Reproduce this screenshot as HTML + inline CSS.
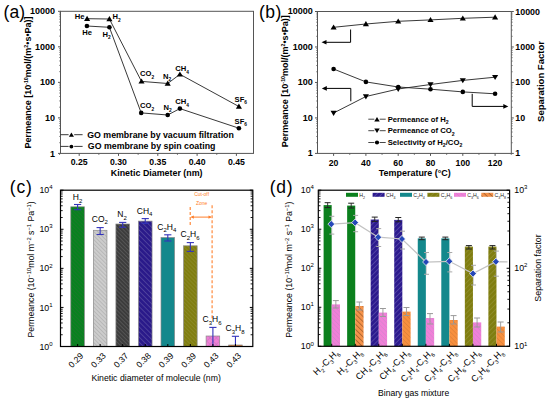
<!DOCTYPE html>
<html><head><meta charset="utf-8"><style>
html,body{margin:0;padding:0;background:#fff;width:550px;height:401px;overflow:hidden}
svg{display:block}
text{font-family:"Liberation Sans",sans-serif}
</style></head><body>
<svg width="550" height="401" viewBox="0 0 550 401" font-family="Liberation Sans, sans-serif">
<rect width="550" height="401" fill="#fff"/>
<defs>
<pattern id="cg" patternUnits="userSpaceOnUse" width="2.8" height="2.8" patternTransform="rotate(-45)"><rect width="2.8" height="2.8" fill="#08821f"/><line x1="0" y1="0" x2="0" y2="2.8" stroke="#2c6e36" stroke-width="0.8"/></pattern>
<pattern id="clg" patternUnits="userSpaceOnUse" width="2.8" height="2.8" patternTransform="rotate(-45)"><rect width="2.8" height="2.8" fill="#cdcdcd"/><line x1="0" y1="0" x2="0" y2="2.8" stroke="#9a9a9a" stroke-width="0.8"/></pattern>
<pattern id="cdg" patternUnits="userSpaceOnUse" width="2.8" height="2.8" patternTransform="rotate(-45)"><rect width="2.8" height="2.8" fill="#3c3c3c"/><line x1="0" y1="0" x2="0" y2="2.8" stroke="#767676" stroke-width="0.8"/></pattern>
<pattern id="cp" patternUnits="userSpaceOnUse" width="3.6" height="3.6" patternTransform="rotate(-45)"><rect width="3.6" height="3.6" fill="#2a1a8a"/><line x1="0" y1="0" x2="0" y2="3.6" stroke="#6a60aa" stroke-width="1.0"/></pattern>
<pattern id="ct" patternUnits="userSpaceOnUse" width="3" height="3" patternTransform="rotate(0)"><rect width="3" height="3" fill="#14888c"/><line x1="0" y1="0" x2="0" y2="3" stroke="#14888c" stroke-width="0.6"/></pattern>
<pattern id="co" patternUnits="userSpaceOnUse" width="2.8" height="2.8" patternTransform="rotate(-45)"><rect width="2.8" height="2.8" fill="#807e10"/><line x1="0" y1="0" x2="0" y2="2.8" stroke="#989640" stroke-width="0.8"/></pattern>
<pattern id="cpk" patternUnits="userSpaceOnUse" width="4.5" height="4.5" patternTransform="rotate(45)"><rect width="4.5" height="4.5" fill="#f07ed6"/><line x1="0" y1="0" x2="0" y2="4.5" stroke="#c078bc" stroke-width="1"/><line x1="0" y1="0" x2="4.5" y2="0" stroke="#c078bc" stroke-width="1"/></pattern>
<pattern id="cor" patternUnits="userSpaceOnUse" width="2.8" height="2.8" patternTransform="rotate(-45)"><rect width="2.8" height="2.8" fill="#d87a3a"/><line x1="0" y1="0" x2="0" y2="2.8" stroke="#b06020" stroke-width="0.8"/></pattern>
<pattern id="dg" patternUnits="userSpaceOnUse" width="3.6" height="3.6" patternTransform="rotate(45)"><rect width="3.6" height="3.6" fill="#0b801d"/><line x1="0" y1="0" x2="0" y2="3.6" stroke="#0b801d" stroke-width="0.9"/></pattern>
<pattern id="dp" patternUnits="userSpaceOnUse" width="3.6" height="3.6" patternTransform="rotate(45)"><rect width="3.6" height="3.6" fill="#2c1a8e"/><line x1="0" y1="0" x2="0" y2="3.6" stroke="#7268b4" stroke-width="1.0"/></pattern>
<pattern id="dt" patternUnits="userSpaceOnUse" width="3.6" height="3.6" patternTransform="rotate(45)"><rect width="3.6" height="3.6" fill="#14888c"/><line x1="0" y1="0" x2="0" y2="3.6" stroke="#14888c" stroke-width="0.9"/></pattern>
<pattern id="do" patternUnits="userSpaceOnUse" width="3.6" height="3.6" patternTransform="rotate(45)"><rect width="3.6" height="3.6" fill="#807e10"/><line x1="0" y1="0" x2="0" y2="3.6" stroke="#9c9a48" stroke-width="0.9"/></pattern>
<pattern id="dpk" patternUnits="userSpaceOnUse" width="3.2" height="3.2" patternTransform="rotate(-45)"><rect width="3.2" height="3.2" fill="#f080d8"/><line x1="0" y1="0" x2="0" y2="3.2" stroke="#c888c8" stroke-width="0.9"/></pattern>
<pattern id="dor" patternUnits="userSpaceOnUse" width="3.6" height="3.6" patternTransform="rotate(-45)"><rect width="3.6" height="3.6" fill="#f4924a"/><line x1="0" y1="0" x2="0" y2="3.6" stroke="#6a3a1a" stroke-width="0.9"/></pattern>
<pattern id="dor2" patternUnits="userSpaceOnUse" width="3.2" height="3.2" patternTransform="rotate(-45)"><rect width="3.2" height="3.2" fill="#f8903e"/><line x1="0" y1="0" x2="0" y2="3.2" stroke="#d07838" stroke-width="0.9"/></pattern>
</defs>
<text x="3.6" y="17.8" font-size="17.5">(a)</text>
<rect x="60.5" y="11.3" width="193.0" height="142.1" fill="none" stroke="#555" stroke-width="1"/>
<line x1="58.00" y1="153.40" x2="60.50" y2="153.40" stroke="#555" stroke-width="1" />
<text x="55.00" y="156.50" font-size="9.0" font-weight="bold" text-anchor="end" fill="#000" >1</text>
<line x1="59.00" y1="142.71" x2="60.50" y2="142.71" stroke="#555" stroke-width="0.6" />
<line x1="59.00" y1="136.45" x2="60.50" y2="136.45" stroke="#555" stroke-width="0.6" />
<line x1="59.00" y1="132.01" x2="60.50" y2="132.01" stroke="#555" stroke-width="0.6" />
<line x1="59.00" y1="128.57" x2="60.50" y2="128.57" stroke="#555" stroke-width="0.6" />
<line x1="59.00" y1="125.76" x2="60.50" y2="125.76" stroke="#555" stroke-width="0.6" />
<line x1="59.00" y1="123.38" x2="60.50" y2="123.38" stroke="#555" stroke-width="0.6" />
<line x1="59.00" y1="121.32" x2="60.50" y2="121.32" stroke="#555" stroke-width="0.6" />
<line x1="59.00" y1="119.50" x2="60.50" y2="119.50" stroke="#555" stroke-width="0.6" />
<line x1="58.00" y1="117.88" x2="60.50" y2="117.88" stroke="#555" stroke-width="1" />
<text x="55.00" y="120.97" font-size="9.0" font-weight="bold" text-anchor="end" fill="#000" >10</text>
<line x1="59.00" y1="107.18" x2="60.50" y2="107.18" stroke="#555" stroke-width="0.6" />
<line x1="59.00" y1="100.93" x2="60.50" y2="100.93" stroke="#555" stroke-width="0.6" />
<line x1="59.00" y1="96.49" x2="60.50" y2="96.49" stroke="#555" stroke-width="0.6" />
<line x1="59.00" y1="93.04" x2="60.50" y2="93.04" stroke="#555" stroke-width="0.6" />
<line x1="59.00" y1="90.23" x2="60.50" y2="90.23" stroke="#555" stroke-width="0.6" />
<line x1="59.00" y1="87.85" x2="60.50" y2="87.85" stroke="#555" stroke-width="0.6" />
<line x1="59.00" y1="85.79" x2="60.50" y2="85.79" stroke="#555" stroke-width="0.6" />
<line x1="59.00" y1="83.98" x2="60.50" y2="83.98" stroke="#555" stroke-width="0.6" />
<line x1="58.00" y1="82.35" x2="60.50" y2="82.35" stroke="#555" stroke-width="1" />
<text x="55.00" y="85.45" font-size="9.0" font-weight="bold" text-anchor="end" fill="#000" >100</text>
<line x1="59.00" y1="71.66" x2="60.50" y2="71.66" stroke="#555" stroke-width="0.6" />
<line x1="59.00" y1="65.40" x2="60.50" y2="65.40" stroke="#555" stroke-width="0.6" />
<line x1="59.00" y1="60.96" x2="60.50" y2="60.96" stroke="#555" stroke-width="0.6" />
<line x1="59.00" y1="57.52" x2="60.50" y2="57.52" stroke="#555" stroke-width="0.6" />
<line x1="59.00" y1="54.71" x2="60.50" y2="54.71" stroke="#555" stroke-width="0.6" />
<line x1="59.00" y1="52.33" x2="60.50" y2="52.33" stroke="#555" stroke-width="0.6" />
<line x1="59.00" y1="50.27" x2="60.50" y2="50.27" stroke="#555" stroke-width="0.6" />
<line x1="59.00" y1="48.45" x2="60.50" y2="48.45" stroke="#555" stroke-width="0.6" />
<line x1="58.00" y1="46.83" x2="60.50" y2="46.83" stroke="#555" stroke-width="1" />
<text x="55.00" y="49.93" font-size="9.0" font-weight="bold" text-anchor="end" fill="#000" >1000</text>
<line x1="59.00" y1="36.13" x2="60.50" y2="36.13" stroke="#555" stroke-width="0.6" />
<line x1="59.00" y1="29.88" x2="60.50" y2="29.88" stroke="#555" stroke-width="0.6" />
<line x1="59.00" y1="25.44" x2="60.50" y2="25.44" stroke="#555" stroke-width="0.6" />
<line x1="59.00" y1="21.99" x2="60.50" y2="21.99" stroke="#555" stroke-width="0.6" />
<line x1="59.00" y1="19.18" x2="60.50" y2="19.18" stroke="#555" stroke-width="0.6" />
<line x1="59.00" y1="16.80" x2="60.50" y2="16.80" stroke="#555" stroke-width="0.6" />
<line x1="59.00" y1="14.74" x2="60.50" y2="14.74" stroke="#555" stroke-width="0.6" />
<line x1="59.00" y1="12.93" x2="60.50" y2="12.93" stroke="#555" stroke-width="0.6" />
<line x1="58.00" y1="11.30" x2="60.50" y2="11.30" stroke="#555" stroke-width="1" />
<text x="55.00" y="14.40" font-size="9.0" font-weight="bold" text-anchor="end" fill="#000" >10000</text>
<line x1="79.20" y1="153.40" x2="79.20" y2="155.90" stroke="#555" stroke-width="1" />
<text x="79.20" y="165.40" font-size="8.7" font-weight="bold" text-anchor="middle" fill="#000" >0.25</text>
<line x1="118.50" y1="153.40" x2="118.50" y2="155.90" stroke="#555" stroke-width="1" />
<text x="118.50" y="165.40" font-size="8.7" font-weight="bold" text-anchor="middle" fill="#000" >0.30</text>
<line x1="157.80" y1="153.40" x2="157.80" y2="155.90" stroke="#555" stroke-width="1" />
<text x="157.80" y="165.40" font-size="8.7" font-weight="bold" text-anchor="middle" fill="#000" >0.35</text>
<line x1="197.10" y1="153.40" x2="197.10" y2="155.90" stroke="#555" stroke-width="1" />
<text x="197.10" y="165.40" font-size="8.7" font-weight="bold" text-anchor="middle" fill="#000" >0.40</text>
<line x1="236.40" y1="153.40" x2="236.40" y2="155.90" stroke="#555" stroke-width="1" />
<text x="236.40" y="165.40" font-size="8.7" font-weight="bold" text-anchor="middle" fill="#000" >0.45</text>
<line x1="59.55" y1="153.40" x2="59.55" y2="154.90" stroke="#555" stroke-width="0.8" />
<line x1="98.85" y1="153.40" x2="98.85" y2="154.90" stroke="#555" stroke-width="0.8" />
<line x1="138.15" y1="153.40" x2="138.15" y2="154.90" stroke="#555" stroke-width="0.8" />
<line x1="177.45" y1="153.40" x2="177.45" y2="154.90" stroke="#555" stroke-width="0.8" />
<line x1="216.75" y1="153.40" x2="216.75" y2="154.90" stroke="#555" stroke-width="0.8" />
<text x="156.70" y="175.80" font-size="8.9" font-weight="bold" text-anchor="middle" fill="#000" >Kinetic Diameter (nm)</text>
<text transform="translate(31.2,82.4) rotate(-90)" font-size="9.0" font-weight="bold" text-anchor="middle">Permeance [10<tspan font-size="5.3" dy="-3.4">-10</tspan><tspan dy="3.4">mol/(m</tspan><tspan font-size="5.3" dy="-3.4">2</tspan><tspan dy="3.4">•s•Pa)]</tspan></text>
<polyline points="87.1,18.7 109.4,19 141.5,81.4 167.7,83.5 179.9,74.3 238.9,106.5" fill="none" stroke="#222" stroke-width="0.9"/>
<polyline points="86.9,26 109.4,27.3 141.2,112.9 167.7,115 179.9,108.6 238.9,128.2" fill="none" stroke="#222" stroke-width="0.9"/>
<path d="M87.10,15.80 L90.14,20.88 L84.05,20.88Z" fill="#000"/>
<path d="M109.40,16.10 L112.45,21.18 L106.36,21.18Z" fill="#000"/>
<path d="M141.50,78.50 L144.54,83.58 L138.46,83.58Z" fill="#000"/>
<path d="M167.70,80.60 L170.74,85.67 L164.66,85.67Z" fill="#000"/>
<path d="M179.90,71.40 L182.94,76.47 L176.86,76.47Z" fill="#000"/>
<path d="M238.90,103.60 L241.94,108.67 L235.86,108.67Z" fill="#000"/>
<circle cx="86.90" cy="26.00" r="2.3" fill="#000"/>
<circle cx="109.40" cy="27.30" r="2.3" fill="#000"/>
<circle cx="141.20" cy="112.90" r="2.3" fill="#000"/>
<circle cx="167.70" cy="115.00" r="2.3" fill="#000"/>
<circle cx="179.90" cy="108.60" r="2.3" fill="#000"/>
<circle cx="238.90" cy="128.20" r="2.3" fill="#000"/>
<text x="84.40" y="18.80" font-size="7.6" font-weight="bold" text-anchor="end" fill="#000"><tspan>He</tspan></text>
<text x="112.60" y="19.30" font-size="7.6" font-weight="bold" text-anchor="start" fill="#000"><tspan>H</tspan><tspan font-size="4.8" dy="2.40">2</tspan></text>
<text x="82.20" y="35.30" font-size="7.6" font-weight="bold" text-anchor="start" fill="#000"><tspan>He</tspan></text>
<text x="102.40" y="37.00" font-size="7.6" font-weight="bold" text-anchor="start" fill="#000"><tspan>H</tspan><tspan font-size="4.8" dy="2.40">2</tspan></text>
<text x="140.00" y="76.40" font-size="7.6" font-weight="bold" text-anchor="start" fill="#000"><tspan>CO</tspan><tspan font-size="4.8" dy="2.40">2</tspan></text>
<text x="163.00" y="78.90" font-size="7.6" font-weight="bold" text-anchor="start" fill="#000"><tspan>N</tspan><tspan font-size="4.8" dy="2.40">2</tspan></text>
<text x="175.20" y="71.30" font-size="7.6" font-weight="bold" text-anchor="start" fill="#000"><tspan>CH</tspan><tspan font-size="4.8" dy="2.40">4</tspan></text>
<text x="234.60" y="101.50" font-size="7.6" font-weight="bold" text-anchor="start" fill="#000"><tspan>SF</tspan><tspan font-size="4.8" dy="2.40">6</tspan></text>
<text x="140.00" y="108.40" font-size="7.6" font-weight="bold" text-anchor="start" fill="#000"><tspan>CO</tspan><tspan font-size="4.8" dy="2.40">2</tspan></text>
<text x="163.60" y="109.90" font-size="7.6" font-weight="bold" text-anchor="start" fill="#000"><tspan>N</tspan><tspan font-size="4.8" dy="2.40">2</tspan></text>
<text x="175.20" y="104.10" font-size="7.6" font-weight="bold" text-anchor="start" fill="#000"><tspan>CH</tspan><tspan font-size="4.8" dy="2.40">4</tspan></text>
<text x="234.60" y="123.60" font-size="7.6" font-weight="bold" text-anchor="start" fill="#000"><tspan>SF</tspan><tspan font-size="4.8" dy="2.40">6</tspan></text>
<line x1="60.50" y1="134.70" x2="68.60" y2="134.70" stroke="#222" stroke-width="0.9" />
<line x1="74.20" y1="134.70" x2="82.60" y2="134.70" stroke="#222" stroke-width="0.9" />
<path d="M71.40,132.60 L73.92,136.80 L68.88,136.80Z" fill="#000"/>
<line x1="60.50" y1="146.40" x2="68.60" y2="146.40" stroke="#222" stroke-width="0.9" />
<line x1="74.20" y1="146.40" x2="82.60" y2="146.40" stroke="#222" stroke-width="0.9" />
<circle cx="71.40" cy="146.60" r="1.95" fill="#000"/>
<text x="87.20" y="137.60" font-size="8.8" font-weight="bold" text-anchor="start" fill="#000" >GO membrane by vacuum filtration</text>
<text x="87.80" y="149.30" font-size="8.8" font-weight="bold" text-anchor="start" fill="#000" >GO membrane by spin coating</text>
<text x="259.0" y="17.8" font-size="17.5" letter-spacing="0.5">(b)</text>
<rect x="317.5" y="11.5" width="193.8" height="141.9" fill="none" stroke="#555" stroke-width="1"/>
<line x1="315.00" y1="153.40" x2="317.50" y2="153.40" stroke="#555" stroke-width="1" />
<line x1="511.30" y1="153.40" x2="513.80" y2="153.40" stroke="#555" stroke-width="1" />
<text x="312.80" y="156.20" font-size="9.0" font-weight="bold" text-anchor="end" fill="#000" >1</text>
<text x="515.30" y="156.40" font-size="8.9" font-weight="bold" text-anchor="start" fill="#000" >1</text>
<line x1="316.00" y1="142.72" x2="317.50" y2="142.72" stroke="#555" stroke-width="0.6" />
<line x1="511.30" y1="142.72" x2="512.80" y2="142.72" stroke="#555" stroke-width="0.6" />
<line x1="316.00" y1="136.47" x2="317.50" y2="136.47" stroke="#555" stroke-width="0.6" />
<line x1="511.30" y1="136.47" x2="512.80" y2="136.47" stroke="#555" stroke-width="0.6" />
<line x1="316.00" y1="132.04" x2="317.50" y2="132.04" stroke="#555" stroke-width="0.6" />
<line x1="511.30" y1="132.04" x2="512.80" y2="132.04" stroke="#555" stroke-width="0.6" />
<line x1="316.00" y1="128.60" x2="317.50" y2="128.60" stroke="#555" stroke-width="0.6" />
<line x1="511.30" y1="128.60" x2="512.80" y2="128.60" stroke="#555" stroke-width="0.6" />
<line x1="316.00" y1="125.80" x2="317.50" y2="125.80" stroke="#555" stroke-width="0.6" />
<line x1="511.30" y1="125.80" x2="512.80" y2="125.80" stroke="#555" stroke-width="0.6" />
<line x1="316.00" y1="123.42" x2="317.50" y2="123.42" stroke="#555" stroke-width="0.6" />
<line x1="511.30" y1="123.42" x2="512.80" y2="123.42" stroke="#555" stroke-width="0.6" />
<line x1="316.00" y1="121.36" x2="317.50" y2="121.36" stroke="#555" stroke-width="0.6" />
<line x1="511.30" y1="121.36" x2="512.80" y2="121.36" stroke="#555" stroke-width="0.6" />
<line x1="316.00" y1="119.55" x2="317.50" y2="119.55" stroke="#555" stroke-width="0.6" />
<line x1="511.30" y1="119.55" x2="512.80" y2="119.55" stroke="#555" stroke-width="0.6" />
<line x1="315.00" y1="117.93" x2="317.50" y2="117.93" stroke="#555" stroke-width="1" />
<line x1="511.30" y1="117.93" x2="513.80" y2="117.93" stroke="#555" stroke-width="1" />
<text x="312.80" y="120.73" font-size="9.0" font-weight="bold" text-anchor="end" fill="#000" >10</text>
<text x="515.30" y="120.93" font-size="8.9" font-weight="bold" text-anchor="start" fill="#000" >10</text>
<line x1="316.00" y1="107.25" x2="317.50" y2="107.25" stroke="#555" stroke-width="0.6" />
<line x1="511.30" y1="107.25" x2="512.80" y2="107.25" stroke="#555" stroke-width="0.6" />
<line x1="316.00" y1="101.00" x2="317.50" y2="101.00" stroke="#555" stroke-width="0.6" />
<line x1="511.30" y1="101.00" x2="512.80" y2="101.00" stroke="#555" stroke-width="0.6" />
<line x1="316.00" y1="96.57" x2="317.50" y2="96.57" stroke="#555" stroke-width="0.6" />
<line x1="511.30" y1="96.57" x2="512.80" y2="96.57" stroke="#555" stroke-width="0.6" />
<line x1="316.00" y1="93.13" x2="317.50" y2="93.13" stroke="#555" stroke-width="0.6" />
<line x1="511.30" y1="93.13" x2="512.80" y2="93.13" stroke="#555" stroke-width="0.6" />
<line x1="316.00" y1="90.32" x2="317.50" y2="90.32" stroke="#555" stroke-width="0.6" />
<line x1="511.30" y1="90.32" x2="512.80" y2="90.32" stroke="#555" stroke-width="0.6" />
<line x1="316.00" y1="87.95" x2="317.50" y2="87.95" stroke="#555" stroke-width="0.6" />
<line x1="511.30" y1="87.95" x2="512.80" y2="87.95" stroke="#555" stroke-width="0.6" />
<line x1="316.00" y1="85.89" x2="317.50" y2="85.89" stroke="#555" stroke-width="0.6" />
<line x1="511.30" y1="85.89" x2="512.80" y2="85.89" stroke="#555" stroke-width="0.6" />
<line x1="316.00" y1="84.07" x2="317.50" y2="84.07" stroke="#555" stroke-width="0.6" />
<line x1="511.30" y1="84.07" x2="512.80" y2="84.07" stroke="#555" stroke-width="0.6" />
<line x1="315.00" y1="82.45" x2="317.50" y2="82.45" stroke="#555" stroke-width="1" />
<line x1="511.30" y1="82.45" x2="513.80" y2="82.45" stroke="#555" stroke-width="1" />
<text x="312.80" y="85.25" font-size="9.0" font-weight="bold" text-anchor="end" fill="#000" >100</text>
<text x="515.30" y="85.45" font-size="8.9" font-weight="bold" text-anchor="start" fill="#000" >100</text>
<line x1="316.00" y1="71.77" x2="317.50" y2="71.77" stroke="#555" stroke-width="0.6" />
<line x1="511.30" y1="71.77" x2="512.80" y2="71.77" stroke="#555" stroke-width="0.6" />
<line x1="316.00" y1="65.52" x2="317.50" y2="65.52" stroke="#555" stroke-width="0.6" />
<line x1="511.30" y1="65.52" x2="512.80" y2="65.52" stroke="#555" stroke-width="0.6" />
<line x1="316.00" y1="61.09" x2="317.50" y2="61.09" stroke="#555" stroke-width="0.6" />
<line x1="511.30" y1="61.09" x2="512.80" y2="61.09" stroke="#555" stroke-width="0.6" />
<line x1="316.00" y1="57.65" x2="317.50" y2="57.65" stroke="#555" stroke-width="0.6" />
<line x1="511.30" y1="57.65" x2="512.80" y2="57.65" stroke="#555" stroke-width="0.6" />
<line x1="316.00" y1="54.85" x2="317.50" y2="54.85" stroke="#555" stroke-width="0.6" />
<line x1="511.30" y1="54.85" x2="512.80" y2="54.85" stroke="#555" stroke-width="0.6" />
<line x1="316.00" y1="52.47" x2="317.50" y2="52.47" stroke="#555" stroke-width="0.6" />
<line x1="511.30" y1="52.47" x2="512.80" y2="52.47" stroke="#555" stroke-width="0.6" />
<line x1="316.00" y1="50.41" x2="317.50" y2="50.41" stroke="#555" stroke-width="0.6" />
<line x1="511.30" y1="50.41" x2="512.80" y2="50.41" stroke="#555" stroke-width="0.6" />
<line x1="316.00" y1="48.60" x2="317.50" y2="48.60" stroke="#555" stroke-width="0.6" />
<line x1="511.30" y1="48.60" x2="512.80" y2="48.60" stroke="#555" stroke-width="0.6" />
<line x1="315.00" y1="46.97" x2="317.50" y2="46.97" stroke="#555" stroke-width="1" />
<line x1="511.30" y1="46.97" x2="513.80" y2="46.97" stroke="#555" stroke-width="1" />
<text x="312.80" y="49.77" font-size="9.0" font-weight="bold" text-anchor="end" fill="#000" >1000</text>
<text x="515.30" y="49.97" font-size="8.9" font-weight="bold" text-anchor="start" fill="#000" >1000</text>
<line x1="316.00" y1="36.30" x2="317.50" y2="36.30" stroke="#555" stroke-width="0.6" />
<line x1="511.30" y1="36.30" x2="512.80" y2="36.30" stroke="#555" stroke-width="0.6" />
<line x1="316.00" y1="30.05" x2="317.50" y2="30.05" stroke="#555" stroke-width="0.6" />
<line x1="511.30" y1="30.05" x2="512.80" y2="30.05" stroke="#555" stroke-width="0.6" />
<line x1="316.00" y1="25.62" x2="317.50" y2="25.62" stroke="#555" stroke-width="0.6" />
<line x1="511.30" y1="25.62" x2="512.80" y2="25.62" stroke="#555" stroke-width="0.6" />
<line x1="316.00" y1="22.18" x2="317.50" y2="22.18" stroke="#555" stroke-width="0.6" />
<line x1="511.30" y1="22.18" x2="512.80" y2="22.18" stroke="#555" stroke-width="0.6" />
<line x1="316.00" y1="19.37" x2="317.50" y2="19.37" stroke="#555" stroke-width="0.6" />
<line x1="511.30" y1="19.37" x2="512.80" y2="19.37" stroke="#555" stroke-width="0.6" />
<line x1="316.00" y1="17.00" x2="317.50" y2="17.00" stroke="#555" stroke-width="0.6" />
<line x1="511.30" y1="17.00" x2="512.80" y2="17.00" stroke="#555" stroke-width="0.6" />
<line x1="316.00" y1="14.94" x2="317.50" y2="14.94" stroke="#555" stroke-width="0.6" />
<line x1="511.30" y1="14.94" x2="512.80" y2="14.94" stroke="#555" stroke-width="0.6" />
<line x1="316.00" y1="13.12" x2="317.50" y2="13.12" stroke="#555" stroke-width="0.6" />
<line x1="511.30" y1="13.12" x2="512.80" y2="13.12" stroke="#555" stroke-width="0.6" />
<line x1="315.00" y1="11.50" x2="317.50" y2="11.50" stroke="#555" stroke-width="1" />
<line x1="511.30" y1="11.50" x2="513.80" y2="11.50" stroke="#555" stroke-width="1" />
<text x="312.80" y="14.30" font-size="9.0" font-weight="bold" text-anchor="end" fill="#000" >10000</text>
<text x="515.30" y="14.50" font-size="8.9" font-weight="bold" text-anchor="start" fill="#000" >10000</text>
<line x1="333.60" y1="153.40" x2="333.60" y2="155.90" stroke="#555" stroke-width="1" />
<text x="333.60" y="165.60" font-size="8.7" font-weight="bold" text-anchor="middle" fill="#000" >20</text>
<line x1="365.90" y1="153.40" x2="365.90" y2="155.90" stroke="#555" stroke-width="1" />
<text x="365.90" y="165.60" font-size="8.7" font-weight="bold" text-anchor="middle" fill="#000" >40</text>
<line x1="398.20" y1="153.40" x2="398.20" y2="155.90" stroke="#555" stroke-width="1" />
<text x="398.20" y="165.60" font-size="8.7" font-weight="bold" text-anchor="middle" fill="#000" >60</text>
<line x1="430.50" y1="153.40" x2="430.50" y2="155.90" stroke="#555" stroke-width="1" />
<text x="430.50" y="165.60" font-size="8.7" font-weight="bold" text-anchor="middle" fill="#000" >80</text>
<line x1="462.80" y1="153.40" x2="462.80" y2="155.90" stroke="#555" stroke-width="1" />
<text x="462.80" y="165.60" font-size="8.7" font-weight="bold" text-anchor="middle" fill="#000" >100</text>
<line x1="495.10" y1="153.40" x2="495.10" y2="155.90" stroke="#555" stroke-width="1" />
<text x="495.10" y="165.60" font-size="8.7" font-weight="bold" text-anchor="middle" fill="#000" >120</text>
<line x1="349.75" y1="153.40" x2="349.75" y2="154.90" stroke="#555" stroke-width="0.8" />
<line x1="382.05" y1="153.40" x2="382.05" y2="154.90" stroke="#555" stroke-width="0.8" />
<line x1="414.35" y1="153.40" x2="414.35" y2="154.90" stroke="#555" stroke-width="0.8" />
<line x1="446.65" y1="153.40" x2="446.65" y2="154.90" stroke="#555" stroke-width="0.8" />
<line x1="478.95" y1="153.40" x2="478.95" y2="154.90" stroke="#555" stroke-width="0.8" />
<line x1="511.25" y1="153.40" x2="511.25" y2="154.90" stroke="#555" stroke-width="0.8" />
<text x="414.80" y="175.80" font-size="8.95" font-weight="bold" text-anchor="middle" fill="#000" >Temperature (°C)</text>
<text transform="translate(288.0,81.2) rotate(-90)" font-size="9.0" font-weight="bold" text-anchor="middle">Permeance [10<tspan font-size="5.3" dy="-3.4">-10</tspan><tspan dy="3.4">mol/(m</tspan><tspan font-size="5.3" dy="-3.4">2</tspan><tspan dy="3.4">•s•Pa)]</tspan></text>
<text transform="translate(543.5,81.5) rotate(-90)" font-size="9.5" font-weight="bold" text-anchor="middle">Separation Factor</text>
<polyline points="333.60,27.3 365.90,24 398.20,21.3 430.50,19.9 462.80,18.3 495.10,17.2" fill="none" stroke="#222" stroke-width="0.9"/>
<polyline points="333.60,113 365.90,96.5 398.20,89 430.50,84.5 462.80,80.4 495.10,77.2" fill="none" stroke="#222" stroke-width="0.9"/>
<polyline points="333.60,69 365.90,81.9 398.20,87 430.50,89.2 462.80,91.9 495.10,93.8" fill="none" stroke="#222" stroke-width="0.9"/>
<path d="M333.60,24.40 L336.65,29.48 L330.56,29.48Z" fill="#000"/>
<path d="M365.90,21.10 L368.95,26.18 L362.86,26.18Z" fill="#000"/>
<path d="M398.20,18.40 L401.25,23.48 L395.16,23.48Z" fill="#000"/>
<path d="M430.50,17.00 L433.55,22.07 L427.45,22.07Z" fill="#000"/>
<path d="M462.80,15.40 L465.85,20.48 L459.75,20.48Z" fill="#000"/>
<path d="M495.10,14.30 L498.15,19.38 L492.06,19.38Z" fill="#000"/>
<path d="M333.60,115.90 L336.65,110.83 L330.56,110.83Z" fill="#000"/>
<path d="M365.90,99.40 L368.95,94.33 L362.86,94.33Z" fill="#000"/>
<path d="M398.20,91.90 L401.25,86.83 L395.16,86.83Z" fill="#000"/>
<path d="M430.50,87.40 L433.55,82.33 L427.45,82.33Z" fill="#000"/>
<path d="M462.80,83.30 L465.85,78.23 L459.75,78.23Z" fill="#000"/>
<path d="M495.10,80.10 L498.15,75.03 L492.06,75.03Z" fill="#000"/>
<circle cx="333.60" cy="69.00" r="2.3" fill="#000"/>
<circle cx="365.90" cy="81.90" r="2.3" fill="#000"/>
<circle cx="398.20" cy="87.00" r="2.3" fill="#000"/>
<circle cx="430.50" cy="89.20" r="2.3" fill="#000"/>
<circle cx="462.80" cy="91.90" r="2.3" fill="#000"/>
<circle cx="495.10" cy="93.80" r="2.3" fill="#000"/>
<polyline points="350.6,29.5 350.6,42.3 324,42.3" fill="none" stroke="#000" stroke-width="1"/>
<path d="M321.50,42.30 l5,-2.3 l0,4.6z" fill="#000"/>
<polyline points="350.8,101.3 350.8,88.4 324,88.4" fill="none" stroke="#000" stroke-width="1"/>
<path d="M321.80,88.40 l5,-2.3 l0,4.6z" fill="#000"/>
<polyline points="472.2,93.8 472.2,106.4 506,106.4" fill="none" stroke="#000" stroke-width="1"/>
<path d="M508.30,106.40 l-5,-2.3 l0,4.6z" fill="#000"/>
<line x1="368.30" y1="119.20" x2="374.30" y2="119.20" stroke="#333" stroke-width="0.9" />
<line x1="379.70" y1="119.20" x2="385.70" y2="119.20" stroke="#333" stroke-width="0.9" />
<path d="M377.00,116.90 L379.73,121.45 L374.27,121.45Z" fill="#000"/>
<text x="387.70" y="121.90" font-size="7.7" font-weight="bold" text-anchor="start" fill="#000"><tspan>Permeance of H</tspan><tspan font-size="5.2" dy="2.20">2</tspan></text>
<line x1="368.30" y1="130.70" x2="374.30" y2="130.70" stroke="#333" stroke-width="0.9" />
<line x1="379.70" y1="130.70" x2="385.70" y2="130.70" stroke="#333" stroke-width="0.9" />
<path d="M377.00,133.00 L379.73,128.45 L374.27,128.45Z" fill="#000"/>
<text x="387.70" y="133.40" font-size="7.7" font-weight="bold" text-anchor="start" fill="#000"><tspan>Permeance of CO</tspan><tspan font-size="5.2" dy="2.20">2</tspan></text>
<line x1="368.30" y1="142.50" x2="374.30" y2="142.50" stroke="#333" stroke-width="0.9" />
<line x1="379.70" y1="142.50" x2="385.70" y2="142.50" stroke="#333" stroke-width="0.9" />
<circle cx="377.00" cy="142.50" r="2.1" fill="#000"/>
<text x="387.70" y="145.20" font-size="7.7" font-weight="bold" text-anchor="start" fill="#000"><tspan>Selectivity of H</tspan><tspan font-size="5.2" dy="2.20">2</tspan><tspan dy="-2.20">/CO</tspan><tspan font-size="5.2" dy="2.20">2</tspan></text>
<text x="9.8" y="192.7" font-size="17.5" letter-spacing="0.8">(c)</text>
<rect x="70.80" y="206.8" width="13.6" height="139.7" fill="url(#cg)" stroke="#8a8a8a" stroke-width="0.7"/>
<rect x="93.35" y="230.3" width="13.6" height="116.19999999999999" fill="url(#clg)" stroke="#8a8a8a" stroke-width="0.7"/>
<rect x="115.90" y="224" width="13.6" height="122.5" fill="url(#cdg)" stroke="#8a8a8a" stroke-width="0.7"/>
<rect x="138.45" y="221.1" width="13.6" height="125.4" fill="url(#cp)" stroke="#8a8a8a" stroke-width="0.7"/>
<rect x="161.00" y="237.5" width="13.6" height="109.0" fill="url(#ct)" stroke="#8a8a8a" stroke-width="0.7"/>
<rect x="183.55" y="245.8" width="13.6" height="100.69999999999999" fill="url(#co)" stroke="#8a8a8a" stroke-width="0.7"/>
<rect x="206.10" y="336" width="13.6" height="10.5" fill="url(#cpk)" stroke="#8a8a8a" stroke-width="0.7"/>
<rect x="228.65" y="345" width="13.6" height="1.5" fill="url(#cor)" stroke="#8a8a8a" stroke-width="0.7"/>
<line x1="77.60" y1="204.50" x2="77.60" y2="209.70" stroke="#3333bb" stroke-width="1.1" />
<line x1="74.00" y1="204.50" x2="81.20" y2="204.50" stroke="#3333bb" stroke-width="1.1" />
<line x1="74.00" y1="209.70" x2="81.20" y2="209.70" stroke="#3333bb" stroke-width="1.1" />
<line x1="100.15" y1="227.60" x2="100.15" y2="234.50" stroke="#3333bb" stroke-width="1.1" />
<line x1="96.55" y1="227.60" x2="103.75" y2="227.60" stroke="#3333bb" stroke-width="1.1" />
<line x1="96.55" y1="234.50" x2="103.75" y2="234.50" stroke="#3333bb" stroke-width="1.1" />
<line x1="122.70" y1="222.40" x2="122.70" y2="227.20" stroke="#3333bb" stroke-width="1.1" />
<line x1="119.10" y1="222.40" x2="126.30" y2="222.40" stroke="#3333bb" stroke-width="1.1" />
<line x1="119.10" y1="227.20" x2="126.30" y2="227.20" stroke="#3333bb" stroke-width="1.1" />
<line x1="145.25" y1="218.60" x2="145.25" y2="223.30" stroke="#3333bb" stroke-width="1.1" />
<line x1="141.65" y1="218.60" x2="148.85" y2="218.60" stroke="#3333bb" stroke-width="1.1" />
<line x1="141.65" y1="223.30" x2="148.85" y2="223.30" stroke="#3333bb" stroke-width="1.1" />
<line x1="167.80" y1="234.80" x2="167.80" y2="241.00" stroke="#3333bb" stroke-width="1.1" />
<line x1="164.20" y1="234.80" x2="171.40" y2="234.80" stroke="#3333bb" stroke-width="1.1" />
<line x1="164.20" y1="241.00" x2="171.40" y2="241.00" stroke="#3333bb" stroke-width="1.1" />
<line x1="190.35" y1="242.60" x2="190.35" y2="251.40" stroke="#3333bb" stroke-width="1.1" />
<line x1="186.75" y1="242.60" x2="193.95" y2="242.60" stroke="#3333bb" stroke-width="1.1" />
<line x1="186.75" y1="251.40" x2="193.95" y2="251.40" stroke="#3333bb" stroke-width="1.1" />
<line x1="212.90" y1="327.40" x2="212.90" y2="346.50" stroke="#3333bb" stroke-width="1.1" />
<line x1="209.30" y1="327.40" x2="216.50" y2="327.40" stroke="#3333bb" stroke-width="1.1" />
<line x1="235.45" y1="336.30" x2="235.45" y2="346.50" stroke="#3333bb" stroke-width="1.1" />
<line x1="231.85" y1="336.30" x2="239.05" y2="336.30" stroke="#3333bb" stroke-width="1.1" />
<line x1="190.20" y1="207.10" x2="190.20" y2="225.00" stroke="#ff7f2a" stroke-width="1.1" stroke-dasharray="3,2"/>
<line x1="212.10" y1="205.20" x2="212.10" y2="320.00" stroke="#ff7f2a" stroke-width="1.1" stroke-dasharray="3,2"/>
<line x1="191.50" y1="217.10" x2="210.80" y2="217.10" stroke="#ff7f2a" stroke-width="1.0" />
<path d="M190.6,217.1 l3.2,-1.6 l0,3.2z" fill="#ff7f2a"/>
<path d="M211.7,217.1 l-3.2,-1.6 l0,3.2z" fill="#ff7f2a"/>
<text x="201.60" y="196.40" font-size="5.0" text-anchor="middle" fill="#ff7f2a" >Cut-off</text>
<text x="201.60" y="204.60" font-size="5.0" text-anchor="middle" fill="#ff7f2a" >Zone</text>
<text x="77.60" y="200.20" font-size="8.5" text-anchor="middle" fill="#000"><tspan>H</tspan><tspan font-size="6.0" dy="2.60">2</tspan></text>
<text x="99.80" y="221.80" font-size="8.5" text-anchor="middle" fill="#000"><tspan>CO</tspan><tspan font-size="6.0" dy="2.60">2</tspan></text>
<text x="122.10" y="217.40" font-size="8.5" text-anchor="middle" fill="#000"><tspan>N</tspan><tspan font-size="6.0" dy="2.60">2</tspan></text>
<text x="144.60" y="213.70" font-size="8.5" text-anchor="middle" fill="#000"><tspan>CH</tspan><tspan font-size="6.0" dy="2.60">4</tspan></text>
<text x="166.80" y="229.50" font-size="8.5" text-anchor="middle" fill="#000"><tspan>C</tspan><tspan font-size="6.0" dy="2.60">2</tspan><tspan dy="-2.60">H</tspan><tspan font-size="6.0" dy="2.60">4</tspan></text>
<text x="190.10" y="236.90" font-size="8.5" text-anchor="middle" fill="#000"><tspan>C</tspan><tspan font-size="6.0" dy="2.60">2</tspan><tspan dy="-2.60">H</tspan><tspan font-size="6.0" dy="2.60">6</tspan></text>
<text x="212.10" y="322.00" font-size="8.5" text-anchor="middle" fill="#000"><tspan>C</tspan><tspan font-size="6.0" dy="2.60">3</tspan><tspan dy="-2.60">H</tspan><tspan font-size="6.0" dy="2.60">6</tspan></text>
<text x="235.00" y="331.00" font-size="8.5" text-anchor="middle" fill="#000"><tspan>C</tspan><tspan font-size="6.0" dy="2.60">3</tspan><tspan dy="-2.60">H</tspan><tspan font-size="6.0" dy="2.60">8</tspan></text>
<rect x="60.5" y="190.2" width="192.3" height="156.3" fill="none" stroke="#000" stroke-width="1.2"/>
<line x1="60.50" y1="346.50" x2="63.50" y2="346.50" stroke="#000" stroke-width="1" />
<line x1="249.80" y1="346.50" x2="252.80" y2="346.50" stroke="#000" stroke-width="1" />
<text x="52.6" y="349.60" font-size="8.8" text-anchor="end">10<tspan font-size="6" dy="-3.9">0</tspan></text>
<line x1="60.50" y1="334.74" x2="62.70" y2="334.74" stroke="#000" stroke-width="0.9" />
<line x1="250.60" y1="334.74" x2="252.80" y2="334.74" stroke="#000" stroke-width="0.9" />
<line x1="60.50" y1="327.86" x2="62.70" y2="327.86" stroke="#000" stroke-width="0.9" />
<line x1="250.60" y1="327.86" x2="252.80" y2="327.86" stroke="#000" stroke-width="0.9" />
<line x1="60.50" y1="322.97" x2="62.70" y2="322.97" stroke="#000" stroke-width="0.9" />
<line x1="250.60" y1="322.97" x2="252.80" y2="322.97" stroke="#000" stroke-width="0.9" />
<line x1="60.50" y1="319.19" x2="62.70" y2="319.19" stroke="#000" stroke-width="0.9" />
<line x1="250.60" y1="319.19" x2="252.80" y2="319.19" stroke="#000" stroke-width="0.9" />
<line x1="60.50" y1="316.09" x2="62.70" y2="316.09" stroke="#000" stroke-width="0.9" />
<line x1="250.60" y1="316.09" x2="252.80" y2="316.09" stroke="#000" stroke-width="0.9" />
<line x1="60.50" y1="313.48" x2="62.70" y2="313.48" stroke="#000" stroke-width="0.9" />
<line x1="250.60" y1="313.48" x2="252.80" y2="313.48" stroke="#000" stroke-width="0.9" />
<line x1="60.50" y1="311.21" x2="62.70" y2="311.21" stroke="#000" stroke-width="0.9" />
<line x1="250.60" y1="311.21" x2="252.80" y2="311.21" stroke="#000" stroke-width="0.9" />
<line x1="60.50" y1="309.21" x2="62.70" y2="309.21" stroke="#000" stroke-width="0.9" />
<line x1="250.60" y1="309.21" x2="252.80" y2="309.21" stroke="#000" stroke-width="0.9" />
<line x1="60.50" y1="307.43" x2="63.50" y2="307.43" stroke="#000" stroke-width="1" />
<line x1="249.80" y1="307.43" x2="252.80" y2="307.43" stroke="#000" stroke-width="1" />
<text x="52.6" y="310.53" font-size="8.8" text-anchor="end">10<tspan font-size="6" dy="-3.9">1</tspan></text>
<line x1="60.50" y1="295.66" x2="62.70" y2="295.66" stroke="#000" stroke-width="0.9" />
<line x1="250.60" y1="295.66" x2="252.80" y2="295.66" stroke="#000" stroke-width="0.9" />
<line x1="60.50" y1="288.78" x2="62.70" y2="288.78" stroke="#000" stroke-width="0.9" />
<line x1="250.60" y1="288.78" x2="252.80" y2="288.78" stroke="#000" stroke-width="0.9" />
<line x1="60.50" y1="283.90" x2="62.70" y2="283.90" stroke="#000" stroke-width="0.9" />
<line x1="250.60" y1="283.90" x2="252.80" y2="283.90" stroke="#000" stroke-width="0.9" />
<line x1="60.50" y1="280.11" x2="62.70" y2="280.11" stroke="#000" stroke-width="0.9" />
<line x1="250.60" y1="280.11" x2="252.80" y2="280.11" stroke="#000" stroke-width="0.9" />
<line x1="60.50" y1="277.02" x2="62.70" y2="277.02" stroke="#000" stroke-width="0.9" />
<line x1="250.60" y1="277.02" x2="252.80" y2="277.02" stroke="#000" stroke-width="0.9" />
<line x1="60.50" y1="274.40" x2="62.70" y2="274.40" stroke="#000" stroke-width="0.9" />
<line x1="250.60" y1="274.40" x2="252.80" y2="274.40" stroke="#000" stroke-width="0.9" />
<line x1="60.50" y1="272.14" x2="62.70" y2="272.14" stroke="#000" stroke-width="0.9" />
<line x1="250.60" y1="272.14" x2="252.80" y2="272.14" stroke="#000" stroke-width="0.9" />
<line x1="60.50" y1="270.14" x2="62.70" y2="270.14" stroke="#000" stroke-width="0.9" />
<line x1="250.60" y1="270.14" x2="252.80" y2="270.14" stroke="#000" stroke-width="0.9" />
<line x1="60.50" y1="268.35" x2="63.50" y2="268.35" stroke="#000" stroke-width="1" />
<line x1="249.80" y1="268.35" x2="252.80" y2="268.35" stroke="#000" stroke-width="1" />
<text x="52.6" y="271.45" font-size="8.8" text-anchor="end">10<tspan font-size="6" dy="-3.9">2</tspan></text>
<line x1="60.50" y1="256.59" x2="62.70" y2="256.59" stroke="#000" stroke-width="0.9" />
<line x1="250.60" y1="256.59" x2="252.80" y2="256.59" stroke="#000" stroke-width="0.9" />
<line x1="60.50" y1="249.71" x2="62.70" y2="249.71" stroke="#000" stroke-width="0.9" />
<line x1="250.60" y1="249.71" x2="252.80" y2="249.71" stroke="#000" stroke-width="0.9" />
<line x1="60.50" y1="244.82" x2="62.70" y2="244.82" stroke="#000" stroke-width="0.9" />
<line x1="250.60" y1="244.82" x2="252.80" y2="244.82" stroke="#000" stroke-width="0.9" />
<line x1="60.50" y1="241.04" x2="62.70" y2="241.04" stroke="#000" stroke-width="0.9" />
<line x1="250.60" y1="241.04" x2="252.80" y2="241.04" stroke="#000" stroke-width="0.9" />
<line x1="60.50" y1="237.94" x2="62.70" y2="237.94" stroke="#000" stroke-width="0.9" />
<line x1="250.60" y1="237.94" x2="252.80" y2="237.94" stroke="#000" stroke-width="0.9" />
<line x1="60.50" y1="235.33" x2="62.70" y2="235.33" stroke="#000" stroke-width="0.9" />
<line x1="250.60" y1="235.33" x2="252.80" y2="235.33" stroke="#000" stroke-width="0.9" />
<line x1="60.50" y1="233.06" x2="62.70" y2="233.06" stroke="#000" stroke-width="0.9" />
<line x1="250.60" y1="233.06" x2="252.80" y2="233.06" stroke="#000" stroke-width="0.9" />
<line x1="60.50" y1="231.06" x2="62.70" y2="231.06" stroke="#000" stroke-width="0.9" />
<line x1="250.60" y1="231.06" x2="252.80" y2="231.06" stroke="#000" stroke-width="0.9" />
<line x1="60.50" y1="229.27" x2="63.50" y2="229.27" stroke="#000" stroke-width="1" />
<line x1="249.80" y1="229.27" x2="252.80" y2="229.27" stroke="#000" stroke-width="1" />
<text x="52.6" y="232.37" font-size="8.8" text-anchor="end">10<tspan font-size="6" dy="-3.9">3</tspan></text>
<line x1="60.50" y1="217.51" x2="62.70" y2="217.51" stroke="#000" stroke-width="0.9" />
<line x1="250.60" y1="217.51" x2="252.80" y2="217.51" stroke="#000" stroke-width="0.9" />
<line x1="60.50" y1="210.63" x2="62.70" y2="210.63" stroke="#000" stroke-width="0.9" />
<line x1="250.60" y1="210.63" x2="252.80" y2="210.63" stroke="#000" stroke-width="0.9" />
<line x1="60.50" y1="205.75" x2="62.70" y2="205.75" stroke="#000" stroke-width="0.9" />
<line x1="250.60" y1="205.75" x2="252.80" y2="205.75" stroke="#000" stroke-width="0.9" />
<line x1="60.50" y1="201.96" x2="62.70" y2="201.96" stroke="#000" stroke-width="0.9" />
<line x1="250.60" y1="201.96" x2="252.80" y2="201.96" stroke="#000" stroke-width="0.9" />
<line x1="60.50" y1="198.87" x2="62.70" y2="198.87" stroke="#000" stroke-width="0.9" />
<line x1="250.60" y1="198.87" x2="252.80" y2="198.87" stroke="#000" stroke-width="0.9" />
<line x1="60.50" y1="196.25" x2="62.70" y2="196.25" stroke="#000" stroke-width="0.9" />
<line x1="250.60" y1="196.25" x2="252.80" y2="196.25" stroke="#000" stroke-width="0.9" />
<line x1="60.50" y1="193.99" x2="62.70" y2="193.99" stroke="#000" stroke-width="0.9" />
<line x1="250.60" y1="193.99" x2="252.80" y2="193.99" stroke="#000" stroke-width="0.9" />
<line x1="60.50" y1="191.99" x2="62.70" y2="191.99" stroke="#000" stroke-width="0.9" />
<line x1="250.60" y1="191.99" x2="252.80" y2="191.99" stroke="#000" stroke-width="0.9" />
<line x1="60.50" y1="190.20" x2="63.50" y2="190.20" stroke="#000" stroke-width="1" />
<line x1="249.80" y1="190.20" x2="252.80" y2="190.20" stroke="#000" stroke-width="1" />
<text x="52.6" y="193.30" font-size="8.8" text-anchor="end">10<tspan font-size="6" dy="-3.9">4</tspan></text>
<line x1="77.60" y1="344.00" x2="77.60" y2="346.50" stroke="#000" stroke-width="1" />
<line x1="100.15" y1="344.00" x2="100.15" y2="346.50" stroke="#000" stroke-width="1" />
<line x1="122.70" y1="344.00" x2="122.70" y2="346.50" stroke="#000" stroke-width="1" />
<line x1="145.25" y1="344.00" x2="145.25" y2="346.50" stroke="#000" stroke-width="1" />
<line x1="167.80" y1="344.00" x2="167.80" y2="346.50" stroke="#000" stroke-width="1" />
<line x1="190.35" y1="344.00" x2="190.35" y2="346.50" stroke="#000" stroke-width="1" />
<line x1="212.90" y1="344.00" x2="212.90" y2="346.50" stroke="#000" stroke-width="1" />
<line x1="235.45" y1="344.00" x2="235.45" y2="346.50" stroke="#000" stroke-width="1" />
<text transform="translate(83.90,356.40) rotate(-45)" font-size="8.6" text-anchor="end">0.29</text>
<text transform="translate(106.45,356.40) rotate(-45)" font-size="8.6" text-anchor="end">0.33</text>
<text transform="translate(129.00,356.40) rotate(-45)" font-size="8.6" text-anchor="end">0.37</text>
<text transform="translate(151.55,356.40) rotate(-45)" font-size="8.6" text-anchor="end">0.38</text>
<text transform="translate(174.10,356.40) rotate(-45)" font-size="8.6" text-anchor="end">0.39</text>
<text transform="translate(196.65,356.40) rotate(-45)" font-size="8.6" text-anchor="end">0.39</text>
<text transform="translate(219.20,356.40) rotate(-45)" font-size="8.6" text-anchor="end">0.43</text>
<text transform="translate(241.75,356.40) rotate(-45)" font-size="8.6" text-anchor="end">0.43</text>
<text x="156.10" y="380.50" font-size="8.7" text-anchor="middle" fill="#000" >Kinetic diameter of molecule (nm)</text>
<text transform="translate(34.0,269.4) rotate(-90)" font-size="8.75" text-anchor="middle">Permeance (10<tspan font-size="5.8" dy="-3.4">−10</tspan><tspan dy="3.4">mol m</tspan><tspan font-size="5.8" dy="-3.4">−2</tspan><tspan dy="3.4"> s</tspan><tspan font-size="5.8" dy="-3.4">−1</tspan><tspan dy="3.4"> Pa</tspan><tspan font-size="5.8" dy="-3.4">−1</tspan><tspan dy="3.4">)</tspan></text>
<text x="269.7" y="192.8" font-size="17.5" letter-spacing="0.8">(d)</text>
<rect x="323.60" y="205.1" width="8.1" height="141.20" fill="url(#dg)"/>
<rect x="331.70" y="304.4" width="8.3" height="41.90" fill="url(#dpk)"/>
<rect x="347.14" y="205.6" width="8.1" height="140.70" fill="url(#dg)"/>
<rect x="355.24" y="306" width="8.3" height="40.30" fill="url(#dor)"/>
<rect x="370.68" y="219.5" width="8.1" height="126.80" fill="url(#dp)"/>
<rect x="378.78" y="312.6" width="8.3" height="33.70" fill="url(#dpk)"/>
<rect x="394.22" y="219.9" width="8.1" height="126.40" fill="url(#dp)"/>
<rect x="402.32" y="311.6" width="8.3" height="34.70" fill="url(#dor2)"/>
<rect x="417.76" y="238.4" width="8.1" height="107.90" fill="url(#dt)"/>
<rect x="425.86" y="318" width="8.3" height="28.30" fill="url(#dpk)"/>
<rect x="441.30" y="238.4" width="8.1" height="107.90" fill="url(#dt)"/>
<rect x="449.40" y="320" width="8.3" height="26.30" fill="url(#dor2)"/>
<rect x="464.84" y="246.6" width="8.1" height="99.70" fill="url(#do)"/>
<rect x="472.94" y="322.4" width="8.3" height="23.90" fill="url(#dpk)"/>
<rect x="488.38" y="246.6" width="8.1" height="99.70" fill="url(#do)"/>
<rect x="496.48" y="326.6" width="8.3" height="19.70" fill="url(#dor2)"/>
<line x1="327.65" y1="202.70" x2="327.65" y2="207.60" stroke="#222" stroke-width="0.9" />
<line x1="324.65" y1="202.70" x2="330.65" y2="202.70" stroke="#222" stroke-width="1" />
<line x1="324.65" y1="207.60" x2="330.65" y2="207.60" stroke="#222" stroke-width="1" />
<line x1="335.85" y1="300.60" x2="335.85" y2="308.00" stroke="#999" stroke-width="0.9" />
<line x1="332.85" y1="300.60" x2="338.85" y2="300.60" stroke="#999" stroke-width="1" />
<line x1="332.85" y1="308.00" x2="338.85" y2="308.00" stroke="#999" stroke-width="1" />
<line x1="351.19" y1="203.20" x2="351.19" y2="208.00" stroke="#222" stroke-width="0.9" />
<line x1="348.19" y1="203.20" x2="354.19" y2="203.20" stroke="#222" stroke-width="1" />
<line x1="348.19" y1="208.00" x2="354.19" y2="208.00" stroke="#222" stroke-width="1" />
<line x1="359.39" y1="302.00" x2="359.39" y2="310.00" stroke="#999" stroke-width="0.9" />
<line x1="356.39" y1="302.00" x2="362.39" y2="302.00" stroke="#999" stroke-width="1" />
<line x1="356.39" y1="310.00" x2="362.39" y2="310.00" stroke="#999" stroke-width="1" />
<line x1="374.73" y1="217.10" x2="374.73" y2="221.40" stroke="#222" stroke-width="0.9" />
<line x1="371.73" y1="217.10" x2="377.73" y2="217.10" stroke="#222" stroke-width="1" />
<line x1="371.73" y1="221.40" x2="377.73" y2="221.40" stroke="#222" stroke-width="1" />
<line x1="382.93" y1="308.50" x2="382.93" y2="316.50" stroke="#999" stroke-width="0.9" />
<line x1="379.93" y1="308.50" x2="385.93" y2="308.50" stroke="#999" stroke-width="1" />
<line x1="379.93" y1="316.50" x2="385.93" y2="316.50" stroke="#999" stroke-width="1" />
<line x1="398.27" y1="217.50" x2="398.27" y2="221.80" stroke="#222" stroke-width="0.9" />
<line x1="395.27" y1="217.50" x2="401.27" y2="217.50" stroke="#222" stroke-width="1" />
<line x1="395.27" y1="221.80" x2="401.27" y2="221.80" stroke="#222" stroke-width="1" />
<line x1="406.47" y1="307.50" x2="406.47" y2="315.50" stroke="#999" stroke-width="0.9" />
<line x1="403.47" y1="307.50" x2="409.47" y2="307.50" stroke="#999" stroke-width="1" />
<line x1="403.47" y1="315.50" x2="409.47" y2="315.50" stroke="#999" stroke-width="1" />
<line x1="421.81" y1="237.10" x2="421.81" y2="239.70" stroke="#222" stroke-width="0.9" />
<line x1="418.81" y1="237.10" x2="424.81" y2="237.10" stroke="#222" stroke-width="1" />
<line x1="418.81" y1="239.70" x2="424.81" y2="239.70" stroke="#222" stroke-width="1" />
<line x1="430.01" y1="313.60" x2="430.01" y2="324.00" stroke="#999" stroke-width="0.9" />
<line x1="427.01" y1="313.60" x2="433.01" y2="313.60" stroke="#999" stroke-width="1" />
<line x1="427.01" y1="324.00" x2="433.01" y2="324.00" stroke="#999" stroke-width="1" />
<line x1="445.35" y1="237.10" x2="445.35" y2="239.70" stroke="#222" stroke-width="0.9" />
<line x1="442.35" y1="237.10" x2="448.35" y2="237.10" stroke="#222" stroke-width="1" />
<line x1="442.35" y1="239.70" x2="448.35" y2="239.70" stroke="#222" stroke-width="1" />
<line x1="453.55" y1="315.60" x2="453.55" y2="324.00" stroke="#999" stroke-width="0.9" />
<line x1="450.55" y1="315.60" x2="456.55" y2="315.60" stroke="#999" stroke-width="1" />
<line x1="450.55" y1="324.00" x2="456.55" y2="324.00" stroke="#999" stroke-width="1" />
<line x1="468.89" y1="245.60" x2="468.89" y2="249.00" stroke="#222" stroke-width="0.9" />
<line x1="465.89" y1="245.60" x2="471.89" y2="245.60" stroke="#222" stroke-width="1" />
<line x1="465.89" y1="249.00" x2="471.89" y2="249.00" stroke="#222" stroke-width="1" />
<line x1="477.09" y1="318.00" x2="477.09" y2="327.00" stroke="#999" stroke-width="0.9" />
<line x1="474.09" y1="318.00" x2="480.09" y2="318.00" stroke="#999" stroke-width="1" />
<line x1="474.09" y1="327.00" x2="480.09" y2="327.00" stroke="#999" stroke-width="1" />
<line x1="492.43" y1="245.60" x2="492.43" y2="249.00" stroke="#222" stroke-width="0.9" />
<line x1="489.43" y1="245.60" x2="495.43" y2="245.60" stroke="#222" stroke-width="1" />
<line x1="489.43" y1="249.00" x2="495.43" y2="249.00" stroke="#222" stroke-width="1" />
<line x1="500.63" y1="322.00" x2="500.63" y2="332.00" stroke="#999" stroke-width="0.9" />
<line x1="497.63" y1="322.00" x2="503.63" y2="322.00" stroke="#999" stroke-width="1" />
<line x1="497.63" y1="332.00" x2="503.63" y2="332.00" stroke="#999" stroke-width="1" />
<polyline points="331.3,224.1 355.1,222.6 378.2,237.2 402.0,239.0 426,262 449.3,261.3 473.0,273.6 495.9,261.7 507.5,261.8" fill="none" stroke="#c2c2c2" stroke-width="1.25"/>
<line x1="331.80" y1="216.30" x2="331.80" y2="234.10" stroke="#c8c8c8" stroke-width="0.8" />
<line x1="329.30" y1="216.30" x2="334.30" y2="216.30" stroke="#aaa" stroke-width="1" />
<line x1="329.30" y1="234.10" x2="334.30" y2="234.10" stroke="#aaa" stroke-width="1" />
<line x1="355.60" y1="215.40" x2="355.60" y2="231.70" stroke="#c8c8c8" stroke-width="0.8" />
<line x1="353.10" y1="215.40" x2="358.10" y2="215.40" stroke="#aaa" stroke-width="1" />
<line x1="353.10" y1="231.70" x2="358.10" y2="231.70" stroke="#aaa" stroke-width="1" />
<line x1="378.70" y1="228.60" x2="378.70" y2="246.50" stroke="#c8c8c8" stroke-width="0.8" />
<line x1="376.20" y1="228.60" x2="381.20" y2="228.60" stroke="#aaa" stroke-width="1" />
<line x1="376.20" y1="246.50" x2="381.20" y2="246.50" stroke="#aaa" stroke-width="1" />
<line x1="402.50" y1="231.20" x2="402.50" y2="249.00" stroke="#c8c8c8" stroke-width="0.8" />
<line x1="400.00" y1="231.20" x2="405.00" y2="231.20" stroke="#aaa" stroke-width="1" />
<line x1="400.00" y1="249.00" x2="405.00" y2="249.00" stroke="#aaa" stroke-width="1" />
<line x1="426.50" y1="252.50" x2="426.50" y2="274.30" stroke="#c8c8c8" stroke-width="0.8" />
<line x1="424.00" y1="252.50" x2="429.00" y2="252.50" stroke="#aaa" stroke-width="1" />
<line x1="424.00" y1="274.30" x2="429.00" y2="274.30" stroke="#aaa" stroke-width="1" />
<line x1="449.80" y1="252.50" x2="449.80" y2="271.90" stroke="#c8c8c8" stroke-width="0.8" />
<line x1="447.30" y1="252.50" x2="452.30" y2="252.50" stroke="#aaa" stroke-width="1" />
<line x1="447.30" y1="271.90" x2="452.30" y2="271.90" stroke="#aaa" stroke-width="1" />
<line x1="473.50" y1="265.30" x2="473.50" y2="285.00" stroke="#c8c8c8" stroke-width="0.8" />
<line x1="471.00" y1="265.30" x2="476.00" y2="265.30" stroke="#aaa" stroke-width="1" />
<line x1="471.00" y1="285.00" x2="476.00" y2="285.00" stroke="#aaa" stroke-width="1" />
<line x1="496.40" y1="251.10" x2="496.40" y2="276.20" stroke="#c8c8c8" stroke-width="0.8" />
<line x1="493.90" y1="251.10" x2="498.90" y2="251.10" stroke="#aaa" stroke-width="1" />
<line x1="493.90" y1="276.20" x2="498.90" y2="276.20" stroke="#aaa" stroke-width="1" />
<path d="M331.30,220.50 L334.70,224.10 L331.30,227.70 L327.90,224.10Z" fill="#2547b8" stroke="#fff" stroke-width="0.7"/>
<path d="M355.10,219.00 L358.50,222.60 L355.10,226.20 L351.70,222.60Z" fill="#2547b8" stroke="#fff" stroke-width="0.7"/>
<path d="M378.20,233.60 L381.60,237.20 L378.20,240.80 L374.80,237.20Z" fill="#2547b8" stroke="#fff" stroke-width="0.7"/>
<path d="M402.00,235.40 L405.40,239.00 L402.00,242.60 L398.60,239.00Z" fill="#2547b8" stroke="#fff" stroke-width="0.7"/>
<path d="M426.00,258.40 L429.40,262.00 L426.00,265.60 L422.60,262.00Z" fill="#2547b8" stroke="#fff" stroke-width="0.7"/>
<path d="M449.30,257.70 L452.70,261.30 L449.30,264.90 L445.90,261.30Z" fill="#2547b8" stroke="#fff" stroke-width="0.7"/>
<path d="M473.00,270.00 L476.40,273.60 L473.00,277.20 L469.60,273.60Z" fill="#2547b8" stroke="#fff" stroke-width="0.7"/>
<path d="M495.90,258.10 L499.30,261.70 L495.90,265.30 L492.50,261.70Z" fill="#2547b8" stroke="#fff" stroke-width="0.7"/>
<rect x="346" y="192.8" width="12" height="4" fill="url(#dg)"/>
<text x="359.30" y="197.30" font-size="5.2" text-anchor="start" fill="#222"><tspan>H</tspan><tspan font-size="3.6" dy="1.40">2</tspan></text>
<rect x="372.6" y="192.8" width="12" height="4" fill="url(#dp)"/>
<text x="385.90" y="197.30" font-size="5.2" text-anchor="start" fill="#222"><tspan>CH</tspan><tspan font-size="3.6" dy="1.40">4</tspan></text>
<rect x="400" y="192.8" width="12" height="4" fill="url(#dt)"/>
<text x="413.30" y="197.30" font-size="5.2" text-anchor="start" fill="#222"><tspan>C</tspan><tspan font-size="3.6" dy="1.40">2</tspan><tspan dy="-1.40">H</tspan><tspan font-size="3.6" dy="1.40">4</tspan></text>
<rect x="427.4" y="192.8" width="12" height="4" fill="url(#do)"/>
<text x="440.70" y="197.30" font-size="5.2" text-anchor="start" fill="#222"><tspan>C</tspan><tspan font-size="3.6" dy="1.40">2</tspan><tspan dy="-1.40">H</tspan><tspan font-size="3.6" dy="1.40">6</tspan></text>
<rect x="454" y="192.8" width="12" height="4" fill="url(#dpk)"/>
<text x="467.30" y="197.30" font-size="5.2" text-anchor="start" fill="#222"><tspan>C</tspan><tspan font-size="3.6" dy="1.40">3</tspan><tspan dy="-1.40">H</tspan><tspan font-size="3.6" dy="1.40">6</tspan></text>
<rect x="481.3" y="192.8" width="12" height="4" fill="url(#dor)"/>
<text x="494.60" y="197.30" font-size="5.2" text-anchor="start" fill="#222"><tspan>C</tspan><tspan font-size="3.6" dy="1.40">3</tspan><tspan dy="-1.40">H</tspan><tspan font-size="3.6" dy="1.40">8</tspan></text>
<rect x="318.3" y="190.2" width="191.3" height="156.10000000000002" fill="none" stroke="#000" stroke-width="1.2"/>
<line x1="318.30" y1="346.30" x2="321.30" y2="346.30" stroke="#000" stroke-width="1" />
<text x="313.9" y="349.40" font-size="8.8" text-anchor="end">10<tspan font-size="6" dy="-3.9">0</tspan></text>
<line x1="318.30" y1="334.55" x2="320.50" y2="334.55" stroke="#000" stroke-width="0.9" />
<line x1="318.30" y1="327.68" x2="320.50" y2="327.68" stroke="#000" stroke-width="0.9" />
<line x1="318.30" y1="322.80" x2="320.50" y2="322.80" stroke="#000" stroke-width="0.9" />
<line x1="318.30" y1="319.02" x2="320.50" y2="319.02" stroke="#000" stroke-width="0.9" />
<line x1="318.30" y1="315.93" x2="320.50" y2="315.93" stroke="#000" stroke-width="0.9" />
<line x1="318.30" y1="313.32" x2="320.50" y2="313.32" stroke="#000" stroke-width="0.9" />
<line x1="318.30" y1="311.06" x2="320.50" y2="311.06" stroke="#000" stroke-width="0.9" />
<line x1="318.30" y1="309.06" x2="320.50" y2="309.06" stroke="#000" stroke-width="0.9" />
<line x1="318.30" y1="307.27" x2="321.30" y2="307.27" stroke="#000" stroke-width="1" />
<text x="313.9" y="310.38" font-size="8.8" text-anchor="end">10<tspan font-size="6" dy="-3.9">1</tspan></text>
<line x1="318.30" y1="295.53" x2="320.50" y2="295.53" stroke="#000" stroke-width="0.9" />
<line x1="318.30" y1="288.66" x2="320.50" y2="288.66" stroke="#000" stroke-width="0.9" />
<line x1="318.30" y1="283.78" x2="320.50" y2="283.78" stroke="#000" stroke-width="0.9" />
<line x1="318.30" y1="280.00" x2="320.50" y2="280.00" stroke="#000" stroke-width="0.9" />
<line x1="318.30" y1="276.91" x2="320.50" y2="276.91" stroke="#000" stroke-width="0.9" />
<line x1="318.30" y1="274.30" x2="320.50" y2="274.30" stroke="#000" stroke-width="0.9" />
<line x1="318.30" y1="272.03" x2="320.50" y2="272.03" stroke="#000" stroke-width="0.9" />
<line x1="318.30" y1="270.04" x2="320.50" y2="270.04" stroke="#000" stroke-width="0.9" />
<line x1="318.30" y1="268.25" x2="321.30" y2="268.25" stroke="#000" stroke-width="1" />
<text x="313.9" y="271.35" font-size="8.8" text-anchor="end">10<tspan font-size="6" dy="-3.9">2</tspan></text>
<line x1="318.30" y1="256.50" x2="320.50" y2="256.50" stroke="#000" stroke-width="0.9" />
<line x1="318.30" y1="249.63" x2="320.50" y2="249.63" stroke="#000" stroke-width="0.9" />
<line x1="318.30" y1="244.75" x2="320.50" y2="244.75" stroke="#000" stroke-width="0.9" />
<line x1="318.30" y1="240.97" x2="320.50" y2="240.97" stroke="#000" stroke-width="0.9" />
<line x1="318.30" y1="237.88" x2="320.50" y2="237.88" stroke="#000" stroke-width="0.9" />
<line x1="318.30" y1="235.27" x2="320.50" y2="235.27" stroke="#000" stroke-width="0.9" />
<line x1="318.30" y1="233.01" x2="320.50" y2="233.01" stroke="#000" stroke-width="0.9" />
<line x1="318.30" y1="231.01" x2="320.50" y2="231.01" stroke="#000" stroke-width="0.9" />
<line x1="318.30" y1="229.22" x2="321.30" y2="229.22" stroke="#000" stroke-width="1" />
<text x="313.9" y="232.32" font-size="8.8" text-anchor="end">10<tspan font-size="6" dy="-3.9">3</tspan></text>
<line x1="318.30" y1="217.48" x2="320.50" y2="217.48" stroke="#000" stroke-width="0.9" />
<line x1="318.30" y1="210.61" x2="320.50" y2="210.61" stroke="#000" stroke-width="0.9" />
<line x1="318.30" y1="205.73" x2="320.50" y2="205.73" stroke="#000" stroke-width="0.9" />
<line x1="318.30" y1="201.95" x2="320.50" y2="201.95" stroke="#000" stroke-width="0.9" />
<line x1="318.30" y1="198.86" x2="320.50" y2="198.86" stroke="#000" stroke-width="0.9" />
<line x1="318.30" y1="196.25" x2="320.50" y2="196.25" stroke="#000" stroke-width="0.9" />
<line x1="318.30" y1="193.98" x2="320.50" y2="193.98" stroke="#000" stroke-width="0.9" />
<line x1="318.30" y1="191.99" x2="320.50" y2="191.99" stroke="#000" stroke-width="0.9" />
<line x1="318.30" y1="190.20" x2="321.30" y2="190.20" stroke="#000" stroke-width="1" />
<text x="313.9" y="193.30" font-size="8.8" text-anchor="end">10<tspan font-size="6" dy="-3.9">4</tspan></text>
<line x1="506.60" y1="346.30" x2="509.60" y2="346.30" stroke="#000" stroke-width="1" />
<text x="514.3" y="349.40" font-size="8.8" text-anchor="start">10<tspan font-size="6" dy="-3.9">1</tspan></text>
<line x1="507.40" y1="322.80" x2="509.60" y2="322.80" stroke="#000" stroke-width="0.9" />
<line x1="507.40" y1="309.06" x2="509.60" y2="309.06" stroke="#000" stroke-width="0.9" />
<line x1="507.40" y1="299.31" x2="509.60" y2="299.31" stroke="#000" stroke-width="0.9" />
<line x1="507.40" y1="291.75" x2="509.60" y2="291.75" stroke="#000" stroke-width="0.9" />
<line x1="507.40" y1="285.57" x2="509.60" y2="285.57" stroke="#000" stroke-width="0.9" />
<line x1="507.40" y1="280.34" x2="509.60" y2="280.34" stroke="#000" stroke-width="0.9" />
<line x1="507.40" y1="275.81" x2="509.60" y2="275.81" stroke="#000" stroke-width="0.9" />
<line x1="507.40" y1="271.82" x2="509.60" y2="271.82" stroke="#000" stroke-width="0.9" />
<line x1="506.60" y1="268.25" x2="509.60" y2="268.25" stroke="#000" stroke-width="1" />
<text x="514.3" y="271.35" font-size="8.8" text-anchor="start">10<tspan font-size="6" dy="-3.9">2</tspan></text>
<line x1="507.40" y1="244.75" x2="509.60" y2="244.75" stroke="#000" stroke-width="0.9" />
<line x1="507.40" y1="231.01" x2="509.60" y2="231.01" stroke="#000" stroke-width="0.9" />
<line x1="507.40" y1="221.26" x2="509.60" y2="221.26" stroke="#000" stroke-width="0.9" />
<line x1="507.40" y1="213.70" x2="509.60" y2="213.70" stroke="#000" stroke-width="0.9" />
<line x1="507.40" y1="207.52" x2="509.60" y2="207.52" stroke="#000" stroke-width="0.9" />
<line x1="507.40" y1="202.29" x2="509.60" y2="202.29" stroke="#000" stroke-width="0.9" />
<line x1="507.40" y1="197.76" x2="509.60" y2="197.76" stroke="#000" stroke-width="0.9" />
<line x1="507.40" y1="193.77" x2="509.60" y2="193.77" stroke="#000" stroke-width="0.9" />
<line x1="506.60" y1="190.20" x2="509.60" y2="190.20" stroke="#000" stroke-width="1" />
<text x="514.3" y="193.30" font-size="8.8" text-anchor="start">10<tspan font-size="6" dy="-3.9">3</tspan></text>
<line x1="331.70" y1="343.80" x2="331.70" y2="346.30" stroke="#000" stroke-width="1" />
<line x1="355.24" y1="343.80" x2="355.24" y2="346.30" stroke="#000" stroke-width="1" />
<line x1="378.78" y1="343.80" x2="378.78" y2="346.30" stroke="#000" stroke-width="1" />
<line x1="402.32" y1="343.80" x2="402.32" y2="346.30" stroke="#000" stroke-width="1" />
<line x1="425.86" y1="343.80" x2="425.86" y2="346.30" stroke="#000" stroke-width="1" />
<line x1="449.40" y1="343.80" x2="449.40" y2="346.30" stroke="#000" stroke-width="1" />
<line x1="472.94" y1="343.80" x2="472.94" y2="346.30" stroke="#000" stroke-width="1" />
<line x1="496.48" y1="343.80" x2="496.48" y2="346.30" stroke="#000" stroke-width="1" />
<text transform="translate(339.40,353.30) rotate(-45)" font-size="9" text-anchor="end"><tspan>H</tspan><tspan font-size="5.6" dy="2.60">2</tspan><tspan dy="-2.60">-C</tspan><tspan font-size="5.6" dy="2.60">3</tspan><tspan dy="-2.60">H</tspan><tspan font-size="5.6" dy="2.60">6</tspan></text>
<text transform="translate(362.94,353.30) rotate(-45)" font-size="9" text-anchor="end"><tspan>H</tspan><tspan font-size="5.6" dy="2.60">2</tspan><tspan dy="-2.60">-C</tspan><tspan font-size="5.6" dy="2.60">3</tspan><tspan dy="-2.60">H</tspan><tspan font-size="5.6" dy="2.60">8</tspan></text>
<text transform="translate(386.48,353.30) rotate(-45)" font-size="9" text-anchor="end"><tspan>CH</tspan><tspan font-size="5.6" dy="2.60">4</tspan><tspan dy="-2.60">-C</tspan><tspan font-size="5.6" dy="2.60">3</tspan><tspan dy="-2.60">H</tspan><tspan font-size="5.6" dy="2.60">6</tspan></text>
<text transform="translate(410.02,353.30) rotate(-45)" font-size="9" text-anchor="end"><tspan>CH</tspan><tspan font-size="5.6" dy="2.60">4</tspan><tspan dy="-2.60">-C</tspan><tspan font-size="5.6" dy="2.60">3</tspan><tspan dy="-2.60">H</tspan><tspan font-size="5.6" dy="2.60">8</tspan></text>
<text transform="translate(433.56,353.30) rotate(-45)" font-size="9" text-anchor="end"><tspan>C</tspan><tspan font-size="5.6" dy="2.60">2</tspan><tspan dy="-2.60">H</tspan><tspan font-size="5.6" dy="2.60">4</tspan><tspan dy="-2.60">-C</tspan><tspan font-size="5.6" dy="2.60">3</tspan><tspan dy="-2.60">H</tspan><tspan font-size="5.6" dy="2.60">6</tspan></text>
<text transform="translate(457.10,353.30) rotate(-45)" font-size="9" text-anchor="end"><tspan>C</tspan><tspan font-size="5.6" dy="2.60">2</tspan><tspan dy="-2.60">H</tspan><tspan font-size="5.6" dy="2.60">4</tspan><tspan dy="-2.60">-C</tspan><tspan font-size="5.6" dy="2.60">3</tspan><tspan dy="-2.60">H</tspan><tspan font-size="5.6" dy="2.60">8</tspan></text>
<text transform="translate(480.64,353.30) rotate(-45)" font-size="9" text-anchor="end"><tspan>C</tspan><tspan font-size="5.6" dy="2.60">2</tspan><tspan dy="-2.60">H</tspan><tspan font-size="5.6" dy="2.60">6</tspan><tspan dy="-2.60">-C</tspan><tspan font-size="5.6" dy="2.60">3</tspan><tspan dy="-2.60">H</tspan><tspan font-size="5.6" dy="2.60">6</tspan></text>
<text transform="translate(504.18,353.30) rotate(-45)" font-size="9" text-anchor="end"><tspan>C</tspan><tspan font-size="5.6" dy="2.60">2</tspan><tspan dy="-2.60">H</tspan><tspan font-size="5.6" dy="2.60">6</tspan><tspan dy="-2.60">-C</tspan><tspan font-size="5.6" dy="2.60">3</tspan><tspan dy="-2.60">H</tspan><tspan font-size="5.6" dy="2.60">8</tspan></text>
<text x="413.60" y="396.00" font-size="8.6" text-anchor="middle" fill="#000" >Binary gas mixture</text>
<text transform="translate(292.3,269.7) rotate(-90)" font-size="8.75" text-anchor="middle">Permeance (10<tspan font-size="5.8" dy="-3.4">−10</tspan><tspan dy="3.4">mol m</tspan><tspan font-size="5.8" dy="-3.4">−2</tspan><tspan dy="3.4"> s</tspan><tspan font-size="5.8" dy="-3.4">−1</tspan><tspan dy="3.4"> Pa</tspan><tspan font-size="5.8" dy="-3.4">−1</tspan><tspan dy="3.4">)</tspan></text>
<text transform="translate(540.7,268) rotate(-90)" font-size="8.85" text-anchor="middle">Separation factor</text>
</svg>
</body></html>
